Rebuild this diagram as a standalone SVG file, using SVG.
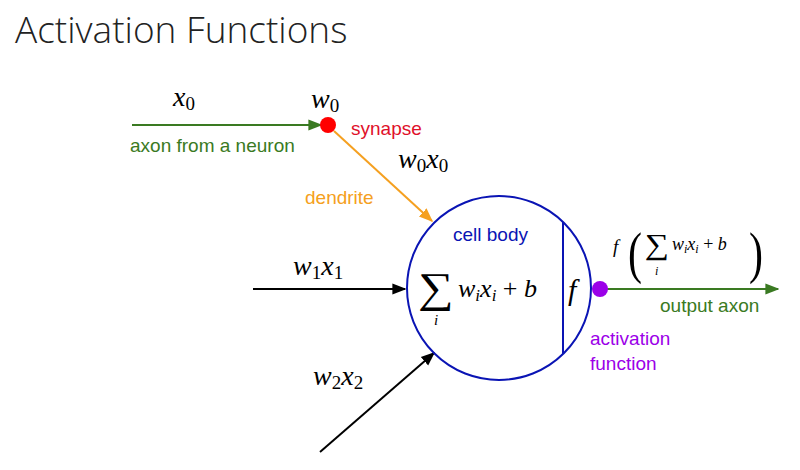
<svg xmlns="http://www.w3.org/2000/svg" width="800" height="470" viewBox="0 0 800 470">
<style>
.m{font-family:"Liberation Serif","DejaVu Serif",serif;font-style:italic;fill:#000}
.s{font-family:"Liberation Sans",Arial,sans-serif;font-size:19px}
.mr{font-family:"Liberation Serif",serif;fill:#000}
.n{font-style:normal}
</style>
<defs>
<marker id="ak" viewBox="0 0 10 10" refX="9" refY="5" markerWidth="7" markerHeight="7" orient="auto"><path d="M0,1 L10,5 L0,9 z" fill="#000"/></marker>
<marker id="ag" viewBox="0 0 10 10" refX="9" refY="5" markerWidth="7" markerHeight="7" orient="auto"><path d="M0,1 L10,5 L0,9 z" fill="#3a7a22"/></marker>
<marker id="ao" viewBox="0 0 10 10" refX="9" refY="5" markerWidth="7" markerHeight="7" orient="auto"><path d="M0,1 L10,5 L0,9 z" fill="#f5a020"/></marker>
</defs>
<rect width="800" height="470" fill="#fff"/>
<text x="15" y="43" font-family="Open Sans, sans-serif" font-weight="300" font-size="37" fill="#222">Activation Functions</text>
<g id="connectors" stroke-width="2" fill="none">
<line x1="132" y1="125" x2="321" y2="125" stroke="#3a7a22" marker-end="url(#ag)"/>
<line x1="334" y1="131" x2="432" y2="221" stroke="#f5a020" marker-end="url(#ao)"/>
<line x1="253" y1="289" x2="405" y2="289" stroke="#000" marker-end="url(#ak)"/>
<line x1="320" y1="452" x2="434" y2="353" stroke="#000" marker-end="url(#ak)"/>
<line x1="607" y1="289" x2="778" y2="289" stroke="#3a7a22" marker-end="url(#ag)"/>
</g>
<g id="synapse">
<circle cx="328" cy="125" r="8" fill="#f00"/>
<text x="351" y="135" class="s" fill="#e0102a">synapse</text>
<text x="311" y="108" class="m" font-size="28">w<tspan class="n" font-size="19" dy="4">0</tspan></text>
</g>
<g id="axon-in">
<text x="173" y="106" class="m" font-size="28">x<tspan class="n" font-size="19" dy="4">0</tspan></text>
<text x="130" y="152" class="s" fill="#3a7a22">axon from a neuron</text>
</g>
<g id="dendrite">
<text x="305" y="204" class="s" fill="#f5a020">dendrite</text>
<text x="398" y="168" class="m" font-size="28">w<tspan class="n" font-size="19" dy="4">0</tspan><tspan dy="-4">x</tspan><tspan class="n" font-size="19" dy="4">0</tspan></text>
</g>
<g id="in1"><text x="293" y="275" class="m" font-size="28">w<tspan class="n" font-size="19" dy="4">1</tspan><tspan dy="-4">x</tspan><tspan class="n" font-size="19" dy="4">1</tspan></text></g>
<g id="in2"><text x="313" y="385" class="m" font-size="28">w<tspan class="n" font-size="19" dy="4">2</tspan><tspan dy="-4">x</tspan><tspan class="n" font-size="19" dy="4">2</tspan></text></g>
<g id="cell">
<circle cx="499" cy="288" r="92" fill="none" stroke="#0a14b4" stroke-width="2"/>
<line x1="563" y1="222" x2="563" y2="354" stroke="#0a14b4" stroke-width="2"/>
<text x="453" y="241" class="s" fill="#0a14b4">cell body</text>
<text x="418" y="302" class="mr" font-size="50" transform="scale(1,0.85)" transform-origin="418 302">∑</text>
<text x="434" y="325" class="m" font-size="15">i</text>
<text x="458" y="297" class="m" font-size="26">w<tspan font-size="17" dy="4">i</tspan><tspan dy="-4">x</tspan><tspan font-size="17" dy="4">i</tspan><tspan class="n" dy="-4"> + </tspan>b</text>
<text x="568" y="300" class="m" font-size="30">f</text>
</g>
<g id="activation">
<circle cx="600" cy="289" r="8" fill="#9b00e8"/>
<text x="590" y="345" class="s" fill="#9b00e8">activation</text>
<text x="590" y="370" class="s" fill="#9b00e8">function</text>
</g>
<g id="output">
<text x="613" y="253" class="m" font-size="19">f</text>
<text x="628" y="272" class="mr" font-size="56" transform="scale(0.75,1)" transform-origin="628 272">(</text>
<text x="645" y="254" class="mr" font-size="34" transform="scale(1,0.85)" transform-origin="645 254">∑</text>
<text x="655" y="275" class="m" font-size="12">i</text>
<text x="672" y="250" class="m" font-size="18">w<tspan font-size="12" dy="3">i</tspan><tspan dy="-3">x</tspan><tspan font-size="12" dy="3">i</tspan><tspan class="n" dy="-3"> + </tspan>b</text>
<text x="749" y="272" class="mr" font-size="56" transform="scale(0.75,1)" transform-origin="749 272">)</text>
<text x="660" y="312" class="s" fill="#3a7a22">output axon</text>
</g>
</svg>
